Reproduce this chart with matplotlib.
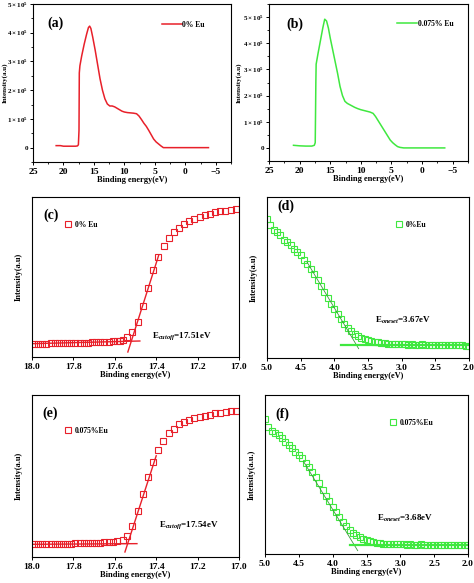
import numpy as np
import matplotlib
matplotlib.use("Agg")
import matplotlib.pyplot as plt
from matplotlib.ticker import FuncFormatter, MultipleLocator

plt.rcParams['font.family'] = ['Liberation Serif', 'DejaVu Serif']
plt.rcParams['font.weight'] = 'bold'
plt.rcParams['mathtext.fontset'] = 'custom'
plt.rcParams['mathtext.rm'] = 'Liberation Serif:bold'
plt.rcParams['mathtext.it'] = 'Liberation Serif:italic:bold'
plt.rcParams['mathtext.bf'] = 'Liberation Serif:bold'

RED = '#e8202a'
GREEN = '#3fe83f'
DARKGREEN = '#3a9a3a'

# (a) full UPS spectrum, 0% Eu (intensity in units of 1e5)
a_energy = [21.2, 20.5, 20.0, 19.0, 18.0, 17.7, 17.55, 17.45, 17.4, 17.3, 17.0, 16.6,
            16.2, 15.9, 15.7, 15.5, 15.2, 14.8, 14.4, 14.0, 13.6, 13.2, 12.8, 12.4,
            12.0, 11.6, 11.2, 10.8, 10.4, 10.0, 9.5, 9.0, 8.5, 8.0, 7.6, 7.2, 6.8,
            6.4, 6.0, 5.6, 5.2, 4.8, 4.4, 4.0, 3.6, 3.0, 2.0, 0.0, -2.0, -3.8]
a_int = [0.07, 0.07, 0.05, 0.05, 0.05, 0.06, 0.1, 0.6, 2.6, 2.85, 3.2, 3.6,
         3.95, 4.18, 4.23, 4.15, 3.85, 3.4, 2.9, 2.4, 2.0, 1.7, 1.52, 1.45,
         1.45, 1.42, 1.37, 1.32, 1.27, 1.24, 1.22, 1.21, 1.20, 1.18, 1.1, 0.98, 0.85,
         0.74, 0.6, 0.45, 0.3, 0.2, 0.13, 0.06, 0.0, 0.0, 0.0, 0.0, 0.0, 0.0]

# (b) full UPS spectrum, 0.075% Eu
b_energy = [21.0, 20.0, 19.0, 18.0, 17.6, 17.45, 17.4, 17.35, 17.3, 17.0, 16.6, 16.2,
            15.9, 15.6, 15.3, 15.0, 14.6, 14.2, 13.8, 13.4, 13.0, 12.6, 12.2, 11.8,
            11.4, 11.0, 10.5, 10.0, 9.5, 9.0, 8.5, 8.0, 7.6, 7.2, 6.8, 6.4, 6.0,
            5.6, 5.2, 4.8, 4.4, 4.0, 3.6, 3.0, 2.0, 0.0, -2.0, -3.7]
b_int = [0.1, 0.08, 0.07, 0.07, 0.1, 0.2, 1.3, 2.5, 3.2, 3.6, 4.1, 4.6,
         4.92, 4.85, 4.58, 4.2, 3.75, 3.3, 2.85, 2.35, 2.0, 1.78, 1.7, 1.65,
         1.6, 1.55, 1.5, 1.46, 1.43, 1.4, 1.37, 1.32, 1.2, 1.05, 0.9, 0.75, 0.6,
         0.45, 0.3, 0.2, 0.12, 0.05, 0.02, 0.0, 0.0, 0.0, 0.0, 0.0]

# (c) cutoff region, 0% Eu (arbitrary units)
c_energy = [17.99, 17.97, 17.95, 17.93, 17.91, 17.89, 17.87, 17.85, 17.83, 17.81, 17.79,
            17.77, 17.75, 17.73, 17.71, 17.69, 17.67, 17.65, 17.63, 17.61, 17.59, 17.575,
            17.56, 17.54, 17.515, 17.49, 17.466, 17.44, 17.417, 17.39, 17.364, 17.34,
            17.314, 17.29, 17.264, 17.24, 17.215, 17.19, 17.165, 17.14, 17.116, 17.09,
            17.066, 17.04, 17.016]
c_int = [40, 40, 40, 40.5, 41, 41, 41, 41.5, 42, 42, 42.5,
         43, 43, 43.5, 44, 44.5, 45, 45, 46, 47, 48, 49,
         50, 60, 75, 105, 152, 208, 260, 300, 332, 357,
         375, 388, 398, 408, 415, 420, 425, 430, 435, 437,
         438, 440, 445]
c_fit_steep_x = [17.537, 17.388]
c_fit_steep_y = [15, 305]
c_fit_base_x = [18.0, 17.479]
c_fit_base_y = [40, 48]

# (d) valence band onset, 0% Eu
d_energy = np.round(np.arange(5.0, 1.999, -0.05), 2)
d_int = [418, 398, 385, 378, 368, 355, 348, 338, 328, 318, 308, 295, 281, 267, 251,
         235, 215, 198, 181, 163, 147, 131, 116, 103, 91, 81, 73, 66, 61, 57, 54,
         51, 49, 47, 46, 44, 43, 43, 42, 42, 41,
         41, 40, 41, 40, 40, 41, 40, 39, 40, 40, 39, 40, 39, 38, 39, 39, 38, 38, 37, 37]
d_fit_tan_x = [4.406, 3.639]
d_fit_tan_y = [288, 28]
d_fit_base_x = [3.9, 2.0]
d_fit_base_y = [40, 40]

# (e) cutoff region, 0.075% Eu
e_energy = [17.99, 17.97, 17.95, 17.93, 17.91, 17.89, 17.87, 17.85, 17.83, 17.81, 17.79,
            17.77, 17.75, 17.73, 17.71, 17.69, 17.67, 17.65, 17.63, 17.61, 17.59,
            17.56, 17.54, 17.515, 17.49, 17.465, 17.44, 17.415, 17.39, 17.365, 17.34,
            17.315, 17.29, 17.265, 17.24, 17.215, 17.19, 17.165, 17.14, 17.115, 17.09,
            17.065, 17.04, 17.015]
e_int = [38, 38, 38, 38.5, 39, 39, 39, 39.5, 40, 40, 40.5,
         41, 41, 41.5, 42, 42, 43, 44, 44, 45, 47,
         50, 63, 92, 138, 190, 240, 285, 320, 348, 370,
         383, 397, 403, 410, 415, 418, 422, 425, 430, 432,
         435, 437, 438]
e_fit_steep_x = [17.551, 17.40]
e_fit_steep_y = [15, 303]
e_fit_base_x = [18.0, 17.493]
e_fit_base_y = [38, 40]

# (f) valence band onset, 0.075% Eu
f_energy = np.round(np.arange(5.0, 1.999, -0.05), 2)
f_int = [405, 381, 371, 365, 358, 348, 338, 328, 318, 308, 298, 288, 275, 263, 248,
         231, 213, 193, 175, 158, 141, 125, 110, 95, 83, 73, 63, 56, 50, 45, 41,
         38, 35, 33, 32, 31, 31, 30, 30, 29, 29,
         29, 28, 29, 28, 28, 29, 28, 27, 28, 28, 27, 28, 27, 27, 28, 27, 26, 27, 26, 26]
f_fit_tan_x = [4.43, 3.63]
f_fit_tan_y = [278, 10]
f_fit_base_x = [3.74, 2.0]
f_fit_base_y = [27, 27]

W, H = 474, 583
fig = plt.figure(figsize=(W / 100, H / 100), dpi=100)


def add_axes(left, right, top, bottom):
    return fig.add_axes([left / W, 1 - bottom / H, (right - left) / W, (bottom - top) / H])


TICK_FS = 6.8
LABEL_FS = 6.0


def style(ax, label, lx, ly, ylabel, ylx, ylabel_fs=LABEL_FS):
    for s in ax.spines.values():
        s.set_linewidth(0.8)
    ax.tick_params(direction='out', length=2.5, width=0.7, labelsize=TICK_FS, pad=1.5)
    ax.tick_params(which='minor', direction='out', length=1.5, width=0.6)
    ax.set_xlabel('Binding energy(eV)', fontsize=LABEL_FS, fontweight='bold', labelpad=0.5)
    ax.set_ylabel(ylabel, fontsize=ylabel_fs, fontweight='bold')
    ax.yaxis.set_label_coords(ylx, 0.5)
    ax.text(lx, ly, label, transform=ax.transAxes, fontsize=10, fontweight='bold',
            ha='center', va='center')


def sci(v, pos):
    if abs(v) < 1e-9:
        return '0'
    return r'$%d\times10^5$' % round(v)


# (a)
ax = add_axes(33, 231, 4, 162)
ax.plot(a_energy, a_int, color=RED, lw=1.1, label='0% Eu')
ax.set_xlim(25, -7.5)
ax.set_ylim(-0.5, 5.0)
ax.xaxis.set_major_locator(MultipleLocator(5))
ax.xaxis.set_minor_locator(MultipleLocator(2.5))
ax.yaxis.set_major_locator(MultipleLocator(1))
ax.yaxis.set_minor_locator(MultipleLocator(0.5))
ax.yaxis.set_major_formatter(FuncFormatter(sci))
style(ax, '(a)', 0.116, 0.88, 'Intensity(a.u)', -0.128, 5.0)
ax.tick_params(axis='y', labelsize=5.0, pad=1.0)
ax.legend(loc='center left', bbox_to_anchor=(0.65, 0.867), frameon=False, fontsize=5.5,
          handlelength=2.6, handletextpad=0.1, borderpad=0, borderaxespad=0)

# (b)
ax = add_axes(269, 468, 4, 161)
ax.plot(b_energy, b_int, color=GREEN, lw=1.1, label='0.075% Eu')
ax.set_xlim(25, -7.5)
ax.set_ylim(-0.5, 5.5)
ax.xaxis.set_major_locator(MultipleLocator(5))
ax.xaxis.set_minor_locator(MultipleLocator(2.5))
ax.yaxis.set_major_locator(MultipleLocator(1))
ax.yaxis.set_minor_locator(MultipleLocator(0.5))
ax.yaxis.set_major_formatter(FuncFormatter(sci))
style(ax, '(b)', 0.13, 0.873, 'Intensity(a.u)', -0.135, 5.0)
ax.tick_params(axis='y', labelsize=5.0, pad=1.0)
ax.legend(loc='center left', bbox_to_anchor=(0.645, 0.873), frameon=False, fontsize=5.5,
          handlelength=2.6, handletextpad=0.1, borderpad=0, borderaxespad=0)

marker_kw = dict(ls='none', marker='s', markersize=3.8, markerfacecolor='none', mew=0.8)
leg_kw = dict(loc='center left', frameon=False, fontsize=5.5, handlelength=0.8,
              handletextpad=0.5, borderpad=0, borderaxespad=0)

# (c)
ax = add_axes(32, 239, 197, 357)
ax.plot(c_energy, c_int, color=RED, label='0% Eu', **marker_kw)
ax.plot(c_fit_steep_x, c_fit_steep_y, color=RED, lw=1.0)
ax.plot(c_fit_base_x, c_fit_base_y, color=RED, lw=1.0)
ax.set_xlim(18.0, 17.0)
ax.set_ylim(0, 480)
ax.xaxis.set_major_locator(MultipleLocator(0.2))
ax.xaxis.set_major_formatter(FuncFormatter(lambda v, p: '%.1f' % v))
ax.set_yticks([])
style(ax, '(c)', 0.09, 0.887, 'Intensity(a.u)', -0.045)
ax.text(17.421, 63, r'E$_{\mathit{cutoff}}$=17.51eV', fontsize=6.5, fontweight='bold',
        ha='left', va='center')
ax.legend(bbox_to_anchor=(0.16, 0.825), **leg_kw)

# (d)
ax = add_axes(267, 469, 197, 358)
ax.plot(d_energy, d_int, color=GREEN, label='0%Eu', **marker_kw)
ax.plot(d_fit_tan_x, d_fit_tan_y, color=DARKGREEN, lw=0.6)
ax.plot(d_fit_base_x, d_fit_base_y, color=GREEN, lw=1.6)
ax.set_xlim(5.0, 2.0)
ax.set_ylim(0, 483)
ax.xaxis.set_major_locator(MultipleLocator(0.5))
ax.xaxis.set_major_formatter(FuncFormatter(lambda v, p: '%.1f' % v))
ax.set_yticks([])
style(ax, '(d)', 0.095, 0.94, 'Intensity(a.u)', -0.045)
ax.text(3.39, 113, r'E$_{\mathit{oneset}}$=3.67eV', fontsize=6.5, fontweight='bold',
        ha='left', va='center')
ax.legend(bbox_to_anchor=(0.64, 0.826), **leg_kw)

# (e)
ax = add_axes(32, 239, 395, 557)
ax.plot(e_energy, e_int, color=RED, label='0.075%Eu', **marker_kw)
ax.plot(e_fit_steep_x, e_fit_steep_y, color=RED, lw=1.0)
ax.plot(e_fit_base_x, e_fit_base_y, color=RED, lw=1.0)
ax.set_xlim(18.0, 17.0)
ax.set_ylim(0, 485)
ax.xaxis.set_major_locator(MultipleLocator(0.2))
ax.xaxis.set_major_formatter(FuncFormatter(lambda v, p: '%.1f' % v))
ax.set_yticks([])
style(ax, '(e)', 0.087, 0.889, 'Intensity(a.u)', -0.045)
ax.text(17.387, 95, r'E$_{\mathit{cutoff}}$=17.54eV', fontsize=6.5, fontweight='bold',
        ha='left', va='center')
ax.legend(bbox_to_anchor=(0.16, 0.778), **leg_kw)

# (f)
ax = add_axes(265, 468, 395, 554)
ax.plot(f_energy, f_int, color=GREEN, label='0.075%Eu', **marker_kw)
ax.plot(f_fit_tan_x, f_fit_tan_y, color=DARKGREEN, lw=0.6)
ax.plot(f_fit_base_x, f_fit_base_y, color=GREEN, lw=1.6)
ax.set_xlim(5.0, 2.0)
ax.set_ylim(0, 478)
ax.xaxis.set_major_locator(MultipleLocator(0.5))
ax.xaxis.set_major_formatter(FuncFormatter(lambda v, p: '%.1f' % v))
ax.set_yticks([])
style(ax, '(f)', 0.085, 0.88, 'Intensity(a.u.)', -0.045)
ax.text(3.34, 108, r'E$_{\mathit{oneset}}$=3.68eV', fontsize=6.5, fontweight='bold',
        ha='left', va='center')
ax.legend(bbox_to_anchor=(0.615, 0.824), **leg_kw)

fig.savefig('out.png', dpi=100)
plt.close(fig)
